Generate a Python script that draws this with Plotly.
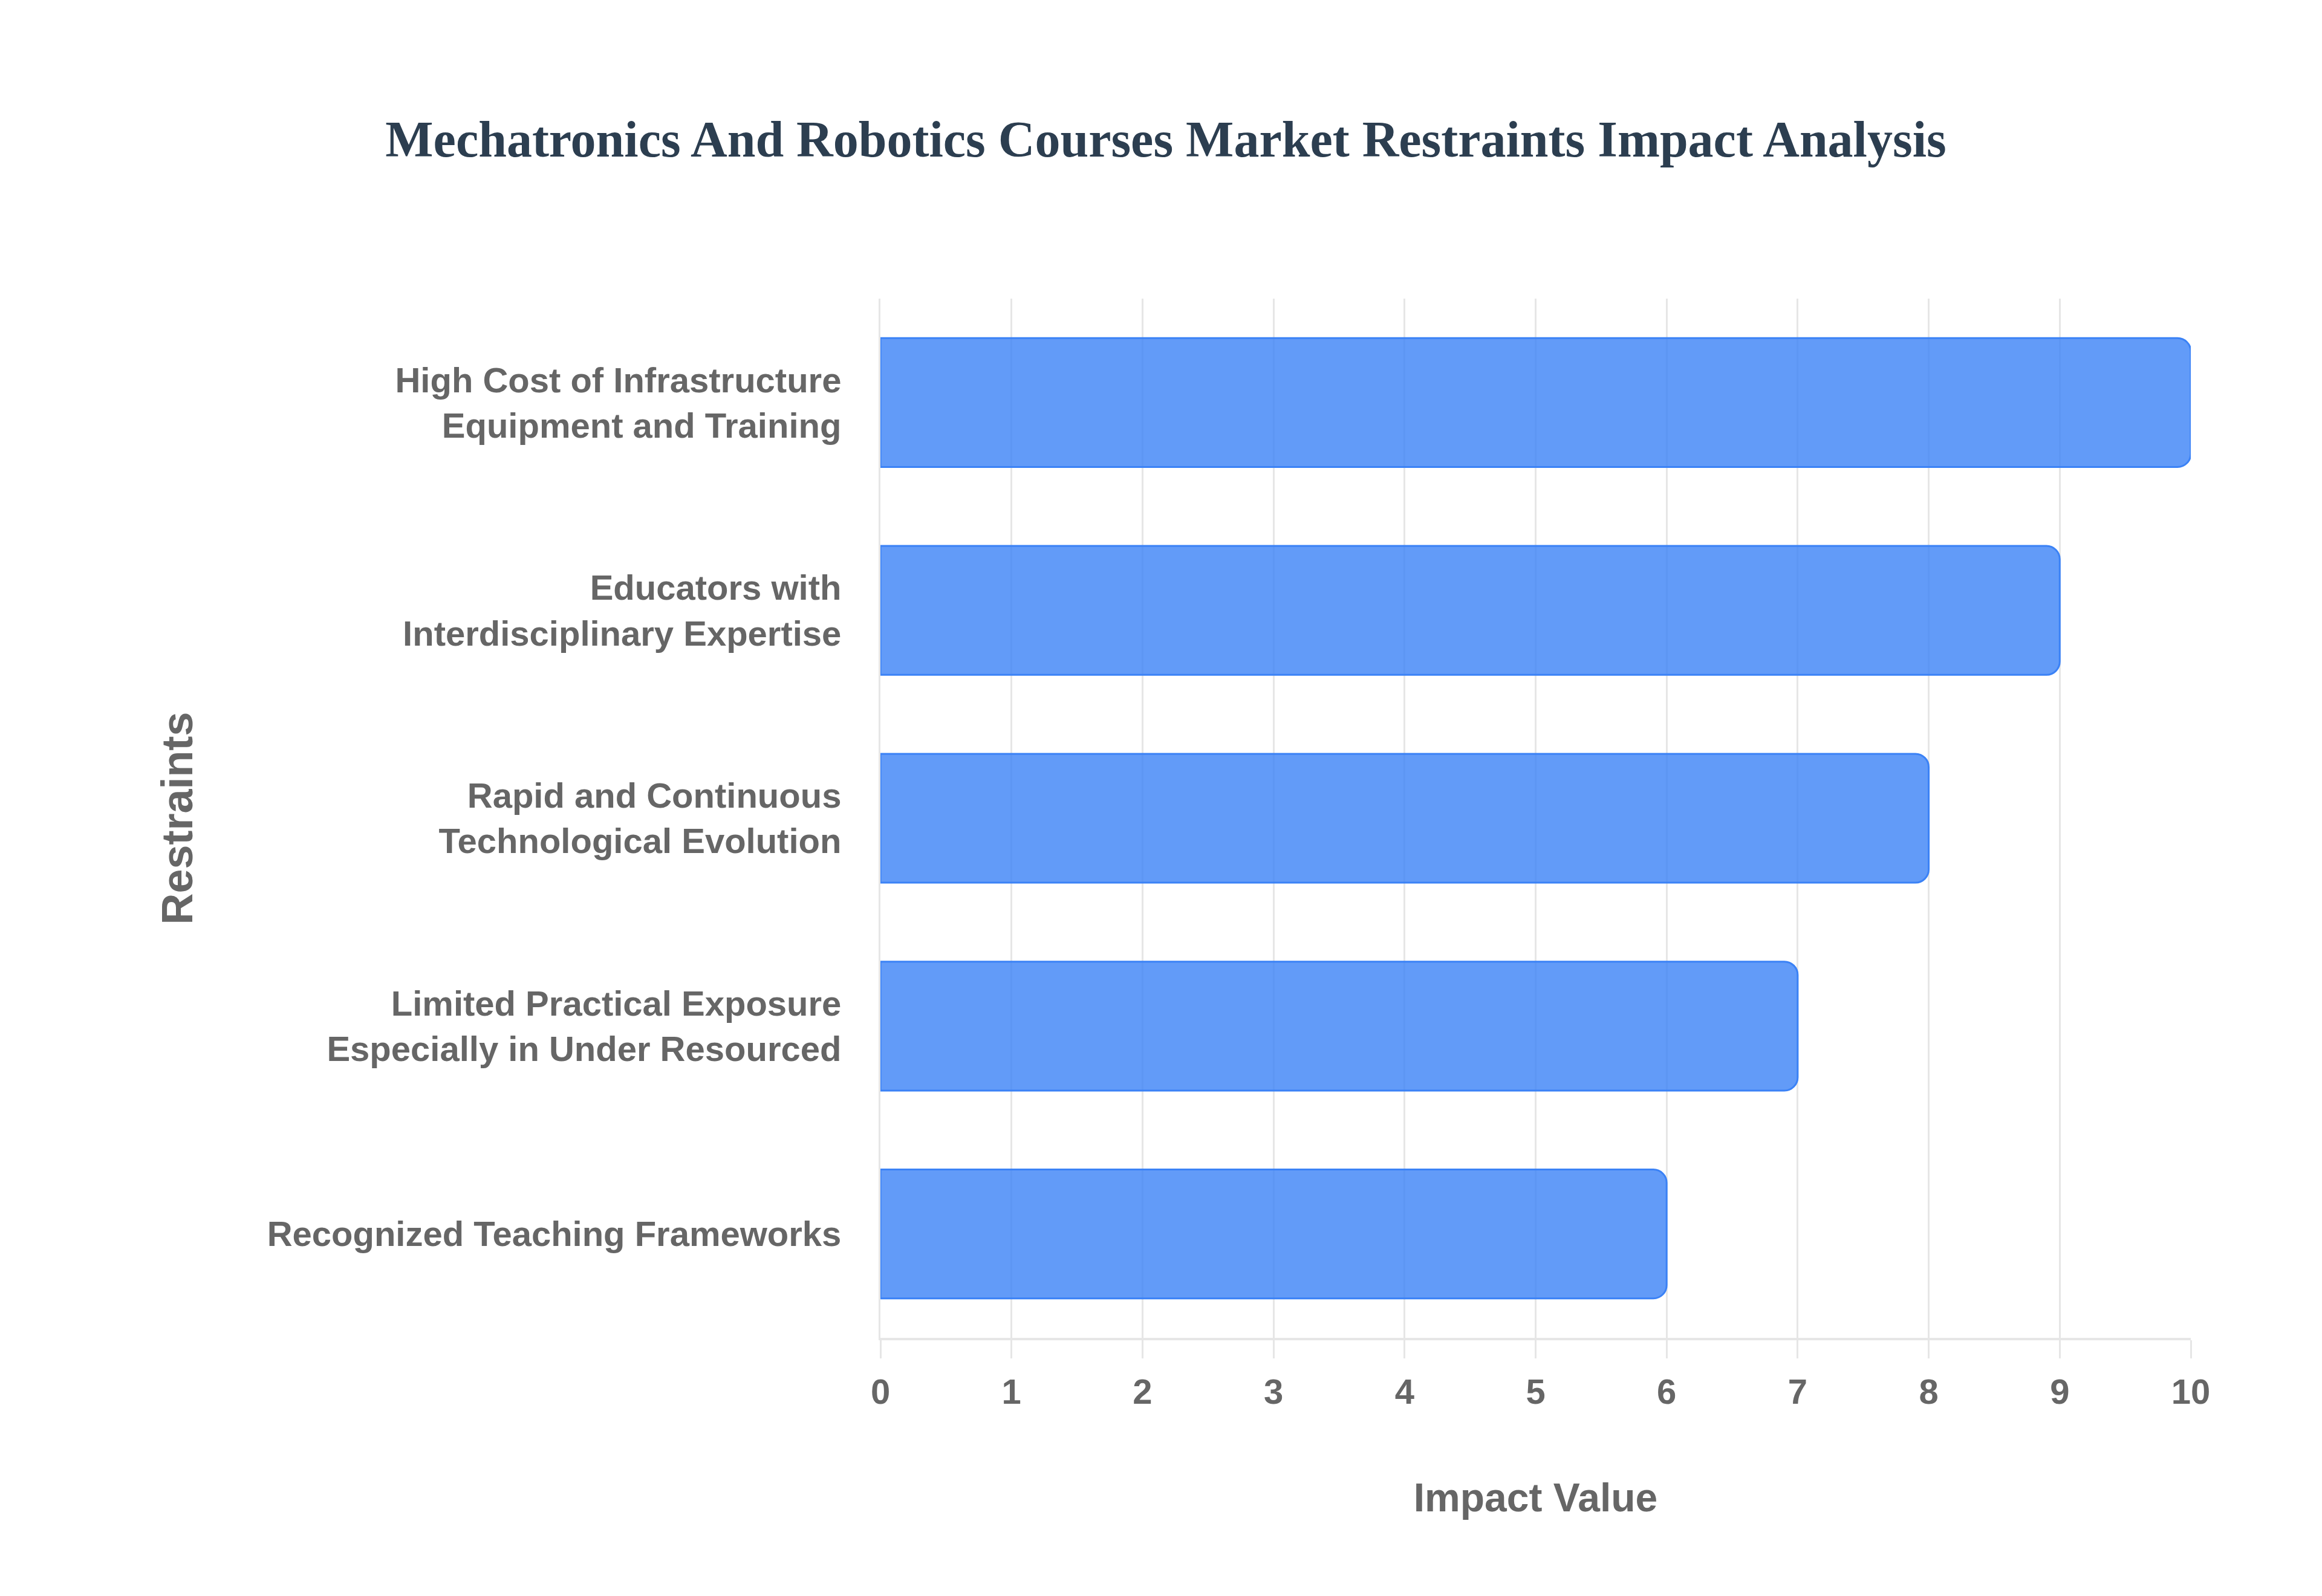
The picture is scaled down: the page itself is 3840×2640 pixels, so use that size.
import plotly.graph_objects as go

# restraint labels, top to bottom as shown
restraints = [
    "High Cost of Infrastructure<br>Equipment and Training",
    "Educators with<br>Interdisciplinary Expertise",
    "Rapid and Continuous<br>Technological Evolution",
    "Limited Practical Exposure<br>Especially in Under Resourced",
    "Recognized Teaching Frameworks",
]
impact = [10, 9, 8, 7, 6]
x_ticks = list(range(0, 11))

title_text = "Mechatronics And Robotics Courses Market Restraints Impact Analysis"
grey = "#666666"
grid = "#e6e6e6"

fig = go.Figure()
fig.add_trace(go.Bar(
    x=impact,
    y=restraints,
    orientation="h",
    marker=dict(color="rgba(59,130,246,0.8)",
                line=dict(color="rgb(59,130,246)", width=3)),
    hoverinfo="x+y",
))

fig.update_layout(
    width=3840, height=2640,
    margin=dict(l=1448, r=225, t=486, b=435, autoexpand=False),
    paper_bgcolor="white", plot_bgcolor="white",
    bargap=0.38,
    barcornerradius=22,
    showlegend=False,
    title=dict(text="<b>" + title_text + "</b>", x=0.5, xanchor="center",
               y=1 - 222 / 2640, yanchor="middle",
               font=dict(family="Liberation Serif", size=84, color="#2c3e50")),
    font=dict(family="Liberation Sans", color=grey),
)

fig.update_xaxes(
    range=[0, 10], tickvals=x_ticks,
    showgrid=True, gridcolor=grid, gridwidth=3,
    zeroline=False,
    showline=True, linecolor=grid, linewidth=4,
    ticks="outside", ticklen=30, tickcolor=grid, tickwidth=3,
    ticklabelstandoff=5,
    tickfont=dict(family="Liberation Sans", size=58, color=grey, weight="bold"),
    title=dict(text="<b>Impact Value</b>", standoff=122,
               font=dict(family="Liberation Sans", size=66, color=grey)),
    automargin=False,
)
fig.update_yaxes(
    autorange="reversed",
    showgrid=False,
    showline=True, linecolor=grid, linewidth=3,
    ticks="", ticklabelstandoff=50,
    tickfont=dict(family="Liberation Sans", size=58, color=grey, weight="bold"),
    title=dict(text="<b>Restraints</b>", standoff=100,
               font=dict(family="Liberation Sans", size=72, color=grey)),
    automargin=False,
)

fig.write_html("out.html")
